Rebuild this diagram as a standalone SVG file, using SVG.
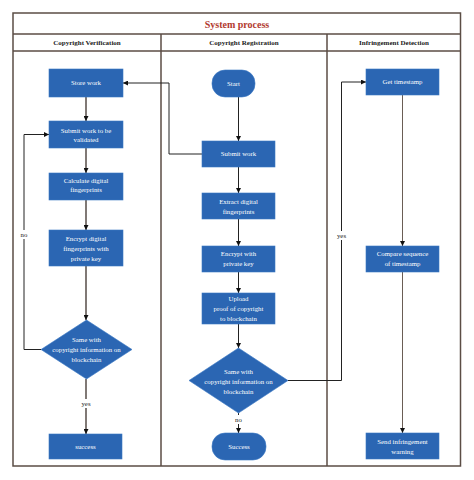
<svg xmlns="http://www.w3.org/2000/svg" width="474" height="480" viewBox="0 0 474 480">
<style>
.frame{fill:none;stroke:#5b4d45;stroke-width:1.5}
.box{fill:#2b66b3;stroke:#3a78c4;stroke-width:0.6}
.t{font-family:"Liberation Serif","Times New Roman",serif;font-size:6.8px;fill:#ffffff;text-anchor:middle}
.h{font-family:"Liberation Serif","Times New Roman",serif;font-size:7px;font-weight:bold;fill:#1a1a1a;text-anchor:middle}
.title{font-family:"Liberation Serif","Times New Roman",serif;font-size:10px;font-weight:bold;fill:#b23a30;text-anchor:middle}
.c{fill:none;stroke:#222;stroke-width:1}
.c2{fill:none;stroke:#4a403b;stroke-width:1.4}
.c3{fill:none;stroke:#6a5d55;stroke-width:1}
.lbl{font-family:"Liberation Serif","Times New Roman",serif;font-size:6.8px;fill:#222;text-anchor:middle}
</style>
<defs>
<marker id="arr" viewBox="0 0 10 10" refX="10" refY="5" markerWidth="5" markerHeight="5" markerUnits="userSpaceOnUse" orient="auto">
<path d="M0,0 L10,5 L0,10 z" fill="#111"/>
</marker>
</defs>
<rect width="474" height="480" fill="#ffffff"/>
<g id="frame">
<rect class="frame" x="13" y="13" width="447.5" height="453"/>
<line class="frame" x1="13" y1="34" x2="460.5" y2="34"/>
<line class="frame" x1="13" y1="51" x2="460.5" y2="51"/>
<line class="frame" x1="161" y1="34" x2="161" y2="466"/>
<line class="frame" x1="327" y1="34" x2="327" y2="466"/>
<text class="title" x="237" y="27.5">System process</text>
<text class="h" x="87" y="45">Copyright Verification</text>
<text class="h" x="244" y="45">Copyright Registration</text>
<text class="h" x="394" y="45">Infringement Detection</text>
</g>
<g id="connectors">
<line class="c2" x1="86" y1="97" x2="86" y2="121" marker-end="url(#arr)"/>
<line class="c2" x1="86" y1="148" x2="86" y2="173" marker-end="url(#arr)"/>
<line class="c2" x1="86" y1="200" x2="86" y2="230" marker-end="url(#arr)"/>
<line class="c2" x1="86" y1="266" x2="86" y2="320" marker-end="url(#arr)"/>
<line class="c2" x1="86" y1="379" x2="86" y2="434" marker-end="url(#arr)"/>
<polyline class="c" points="41,349.5 24,349.5 24,134.5 49,134.5" marker-end="url(#arr)"/>
<polyline class="c" points="202,154 169,154 169,83 123,83" marker-end="url(#arr)"/>
<line class="c" x1="238.5" y1="97" x2="238.5" y2="141" marker-end="url(#arr)"/>
<line class="c" x1="238.5" y1="167" x2="238.5" y2="193" marker-end="url(#arr)"/>
<line class="c" x1="238.5" y1="219" x2="238.5" y2="246" marker-end="url(#arr)"/>
<line class="c" x1="238.5" y1="272" x2="238.5" y2="293" marker-end="url(#arr)"/>
<line class="c" x1="238.5" y1="324" x2="238.5" y2="348" marker-end="url(#arr)"/>
<line class="c" x1="238.5" y1="413" x2="238.5" y2="433" marker-end="url(#arr)"/>
<polyline class="c" points="288,380.5 341.5,380.5 341.5,82 366,82" marker-end="url(#arr)"/>
<line class="c3" x1="402.5" y1="95" x2="402.5" y2="246" marker-end="url(#arr)"/>
<line class="c3" x1="402.5" y1="272" x2="402.5" y2="433" marker-end="url(#arr)"/>
<rect x="79" y="399" width="14" height="9" fill="#fff"/>
<text class="lbl" x="86" y="406">yes</text>
<rect x="18" y="230" width="12" height="9" fill="#fff"/>
<text class="lbl" x="24" y="237">no</text>
<rect x="232" y="415" width="13" height="9" fill="#fff"/>
<text class="lbl" x="238.5" y="422">no</text>
<rect x="334" y="231" width="15" height="9" fill="#fff"/>
<text class="lbl" x="341.5" y="238">yes</text>
</g>
<g id="store-work">
<rect class="box" x="49" y="69" width="74" height="28"/>
<text class="t" x="86" y="85.4">Store work</text>
</g>
<g id="submit-validated">
<rect class="box" x="49" y="121" width="74" height="27"/>
<text class="t" x="86" y="133.4">Submit work to be</text>
<text class="t" x="86" y="142.4">validated</text>
</g>
<g id="calculate">
<rect class="box" x="49" y="173" width="74" height="27"/>
<text class="t" x="86" y="183.4">Calculate digital</text>
<text class="t" x="86" y="192.4">fingerprints</text>
</g>
<g id="encrypt-v">
<rect class="box" x="49" y="230" width="74" height="36"/>
<text class="t" x="86" y="241.4">Encrypt digital</text>
<text class="t" x="86" y="251">fingerprints with</text>
<text class="t" x="86" y="260.6">private key</text>
</g>
<g id="decision-v">
<polygon class="box" points="86.5,320 132,349.5 86.5,379 41,349.5"/>
<text class="t" x="86.5" y="342.4">Same with</text>
<text class="t" x="86.5" y="352">copyright information on</text>
<text class="t" x="86.5" y="361.6">blockchain</text>
</g>
<g id="success-v">
<rect class="box" x="49" y="434" width="73" height="25"/>
<text class="t" x="85.5" y="448.8">success</text>
</g>
<g id="start">
<rect class="box" x="212" y="70" width="43" height="27" rx="13" ry="13"/>
<text class="t" x="233.5" y="85.8">Start</text>
</g>
<g id="submit-work">
<rect class="box" x="202" y="141" width="73" height="26"/>
<text class="t" x="238.5" y="156.4">Submit work</text>
</g>
<g id="extract">
<rect class="box" x="202" y="193" width="73" height="26"/>
<text class="t" x="238.5" y="204.4">Extract digital</text>
<text class="t" x="238.5" y="214">fingerprints</text>
</g>
<g id="encrypt-r">
<rect class="box" x="202" y="246" width="73" height="26"/>
<text class="t" x="238.5" y="256.4">Encrypt with</text>
<text class="t" x="238.5" y="266">private key</text>
</g>
<g id="upload">
<rect class="box" x="202" y="293" width="73" height="31"/>
<text class="t" x="238.5" y="301.4">Upload</text>
<text class="t" x="238.5" y="311">proof of copyright</text>
<text class="t" x="238.5" y="320.6">to  blockchain</text>
</g>
<g id="decision-r">
<polygon class="box" points="238.5,348 288,380.5 238.5,413 189,380.5"/>
<text class="t" x="238.5" y="374.4">Same with</text>
<text class="t" x="238.5" y="384">copyright information on</text>
<text class="t" x="238.5" y="393.6">blockchain</text>
</g>
<g id="success-r">
<rect class="box" x="212" y="433" width="54" height="27" rx="13" ry="13"/>
<text class="t" x="239" y="448.8">Success</text>
</g>
<g id="get-timestamp">
<rect class="box" x="366" y="69" width="73" height="26"/>
<text class="t" x="402.5" y="84.4">Get timestamp</text>
</g>
<g id="compare">
<rect class="box" x="366" y="246" width="73" height="26"/>
<text class="t" x="402.5" y="256.4">Compare sequence</text>
<text class="t" x="402.5" y="266">of timestamp</text>
</g>
<g id="send-warning">
<rect class="box" x="366" y="433" width="73" height="26"/>
<text class="t" x="402.5" y="444.4">Send infringement</text>
<text class="t" x="402.5" y="454">warning</text>
</g>
</svg>
